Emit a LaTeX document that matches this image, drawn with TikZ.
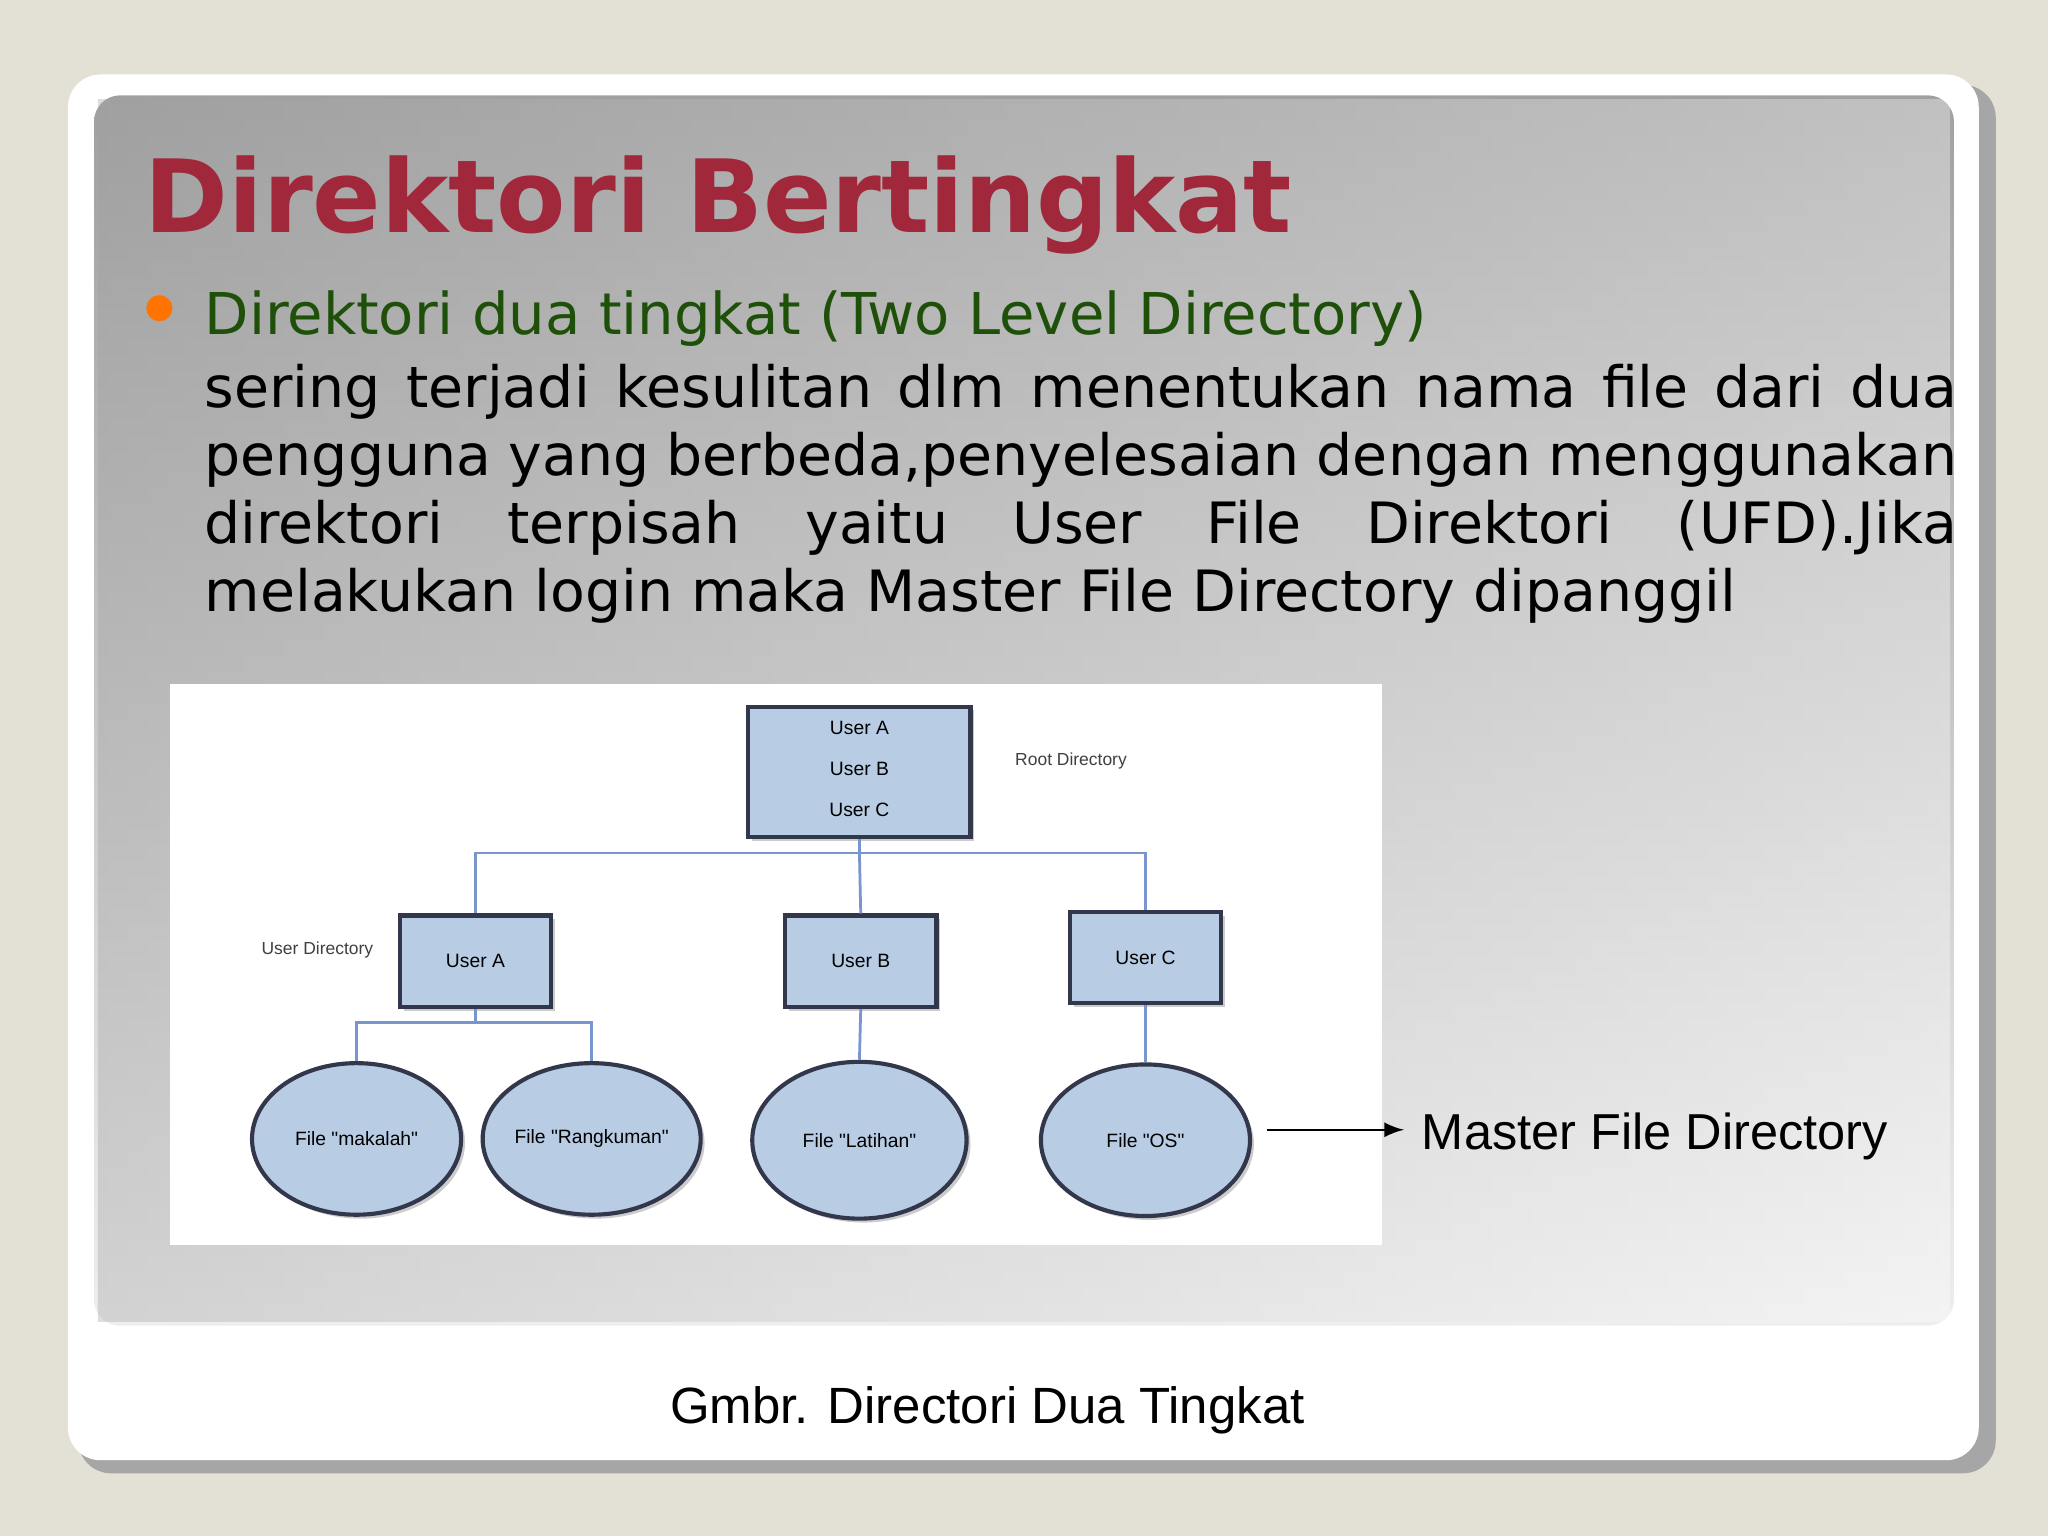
\documentclass[tikz,border=0pt]{standalone}
\usepackage{fontspec}
\setmainfont{DejaVu Sans}
\newfontfamily\arialf{Liberation Sans}
\usetikzlibrary{shadows,shapes.geometric}
\definecolor{bgc}{RGB}{227,224,213}
\definecolor{titc}{RGB}{160,40,58}
\definecolor{bulc}{RGB}{30,80,10}
\definecolor{boxc}{RGB}{184,204,228}
\definecolor{linec}{RGB}{120,150,205}
\definecolor{edgec}{RGB}{50,55,75}
\newcommand{\jline}[1]{\makebox[13.41cm][s]{#1}}
\tikzset{
 ubox/.style={draw=edgec,line width=0.9pt,fill=boxc,minimum width=1.16cm,minimum height=0.70cm,drop shadow={opacity=0.4,shadow xshift=0.03cm,shadow yshift=-0.03cm},inner sep=0pt,font=\arialf\fontsize{4.2}{5}\selectfont},
 fnode/.style={draw=edgec,line width=0.9pt,fill=boxc,ellipse,minimum width=1.6cm,minimum height=1.16cm,inner sep=0pt,drop shadow={opacity=0.4,shadow xshift=0.03cm,shadow yshift=-0.03cm},font=\arialf\fontsize{4.2}{5}\selectfont},
 conn/.style={draw=linec,line width=0.6pt},
 small/.style={font=\arialf\fontsize{3.8}{5}\selectfont,text=black!75}
}
\begin{document}
\begin{tikzpicture}[x=0.01cm,y=-0.01cm]
\fill[bgc] (0,0) rectangle (1568,1176);
\useasboundingbox (0,0) rectangle (1568,1176);
\fill[black!35,rounded corners=0.25cm] (60,65) rectangle (1528,1128);
\fill[white,rounded corners=0.25cm] (52,57) rectangle (1515,1118);
\shade[rounded corners=0.2cm,top color={rgb,255:red,160;green,160;blue,160},bottom color={rgb,255:red,238;green,238;blue,238}] (72,73) rectangle (1496,1015);
\shade[left color={rgb,255:red,160;green,160;blue,160},right color=white,opacity=0.35] (75,76) rectangle (1493,1012);
\node[anchor=base west,inner sep=0pt,text=titc,font=\bfseries\fontsize{22}{26}\selectfont] (title) at (110,178) {Direktori Bertingkat};
\fill[orange!90!red] (122,236) circle (10);
\node[anchor=base west,inner sep=0pt,text=bulc,font=\fontsize{12.55}{15}\selectfont] (bul) at (156,256) {Direktori dua tingkat (Two Level Directory)};
\node[anchor=north west,inner sep=0pt,align=left,font=\fontsize{12.4}{14.8}\selectfont] (body) at (156,278) {\jline{sering terjadi kesulitan dlm menentukan nama file dari dua}\\ \jline{pengguna yang berbeda,penyelesaian dengan menggunakan}\\ \jline{direktori terpisah yaitu User File Direktori (UFD).Jika}\\ melakukan login maka Master File Directory dipanggil};
\fill[white] (130,524) rectangle (1058,953);
\node[ubox,minimum width=1.70cm,minimum height=1.0cm] (root) at (658,591) {};
\node[font=\arialf\fontsize{4.2}{5}\selectfont] (ua0) at (658,557) {User A};
\node[font=\arialf\fontsize{4.2}{5}\selectfont] (ub0) at (658,589) {User B};
\node[font=\arialf\fontsize{4.2}{5}\selectfont] (uc0) at (658,620) {User C};
\node[small] (rootlbl) at (820,583) {Root Directory};
\node[ubox] (ua) at (364,736) {User A};
\node[ubox] (ub) at (659,736) {User B};
\node[ubox,minimum width=1.15cm] (uc) at (877,733) {User C};
\node[small] (udlbl) at (243,727) {User Directory};
\coordinate (j0) at (658,653);
\draw[conn] (root.south) -- (j0);
\draw[conn] (ua.north) |- (j0);
\draw[conn] (j0) -- (ub.north);
\draw[conn] (uc.north) |- (j0);
\node[fnode] (f1) at (273,872) {File "makalah"};
\node[fnode] (f2) at (453,872) {File "Rangkuman"};
\node[fnode,minimum width=1.64cm,minimum height=1.2cm] (f3) at (658,873) {File "Latihan"};
\node[fnode] (f4) at (877,873) {File "OS"};
\coordinate (j1) at (364,783);
\draw[conn] (ua.south) -- (j1);
\draw[conn] (f1.north) |- (j1);
\draw[conn] (f2.north) |- (j1);
\draw[conn] (ub.south) -- (f3.north);
\draw[conn] (uc.south) -- (f4.north);
\node[anchor=west,inner sep=0pt,font=\arialf\fontsize{11}{13}\selectfont] (mfd) at (1088,870) {Master File Directory};
\coordinate (as) at (970,865);
\draw[-latex,line width=0.5pt] (as) -- (1075,865);
\node[inner sep=0pt,font=\arialf\fontsize{11.1}{13}\selectfont] (cap) at (756,1080) {Gmbr. Directori Dua Tingkat};
\end{tikzpicture}
\end{document}
